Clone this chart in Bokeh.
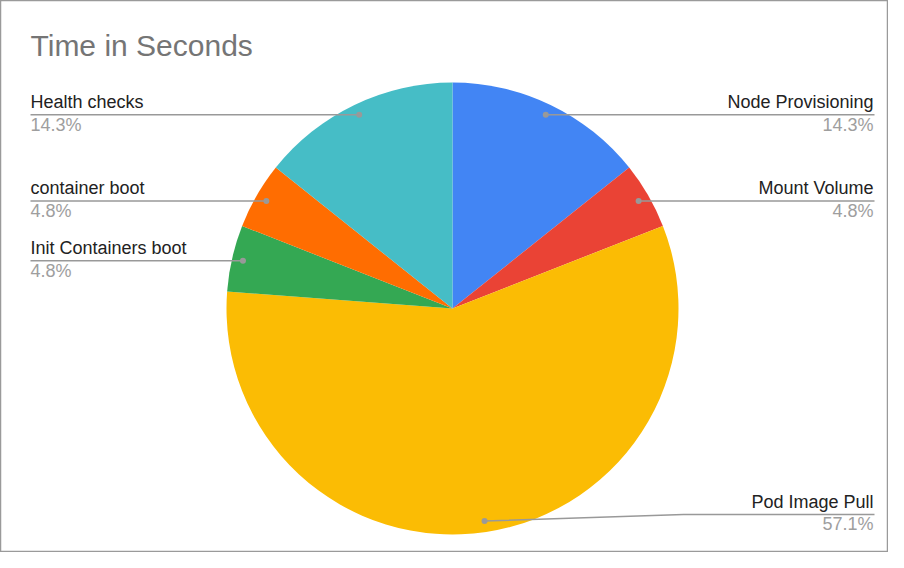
import math
from bokeh.plotting import figure
from bokeh.models import Range1d, ColumnDataSource
from bokeh.core.properties import value
from bokeh.embed import file_html
from bokeh.resources import INLINE

categories = ["Node Provisioning", "Mount Volume", "Pod Image Pull",
              "Init Containers boot", "container boot", "Health checks"]
seconds = [3, 1, 12, 1, 1, 3]
colors = ["#4285F4", "#EA4335", "#FBBC04", "#34A853", "#FF6D01", "#46BDC6"]
title_text = "Time in Seconds"

FONT = value("Liberation Sans")
PAGE_H = 568
def Y(sy):
    return PAGE_H - sy

CX, CY, R = 452, Y(308), 226
LEFT_X, RIGHT_X = 30, 874
BOTTOM_LIMIT = Y(514)
BASE_FIX = 0.39  # em, baseline correction

p = figure(width=888, height=552, x_range=Range1d(0, 888), y_range=Range1d(16, 568),
           output_backend="svg", toolbar_location=None, min_border=0,
           x_axis_type=None, y_axis_type=None)
p.grid.visible = False
p.outline_line_color = "#9a9a9a"
p.outline_line_width = 1.5
p.background_fill_color = "white"

total = float(sum(seconds))
cum = 0.0
starts, ends = [], []
lx, ly, lxs, lys = [], [], [], []
right_rows, left_rows = [], []
for cat, v in zip(categories, seconds):
    f0 = cum / total
    f1 = (cum + v) / total
    cum += v
    starts.append(math.pi / 2 - 2 * math.pi * f1)
    ends.append(math.pi / 2 - 2 * math.pi * f0)
    mid = math.pi / 2 - 2 * math.pi * (f0 + f1) / 2
    dx = CX + 0.951 * R * math.cos(mid)
    dy = CY + 0.951 * R * math.sin(mid)
    lx.append(dx); ly.append(dy)
    line_y = max(dy, BOTTOM_LIMIT)
    pct = f"{v / total * 100:.1f}%"
    if dx >= CX:
        if line_y != dy:
            xs = [dx, CX + R + 5, RIGHT_X]; ys = [dy, line_y, line_y]
        else:
            xs = [dx, RIGHT_X]; ys = [dy, dy]
        right_rows.append((cat, pct, line_y))
    else:
        xs = [LEFT_X, dx]; ys = [dy, dy]
        left_rows.append((cat, pct, line_y))
    lxs.append(xs); lys.append(ys)

src = ColumnDataSource(dict(start=starts, end=ends, color=colors))
p.wedge(x=CX, y=CY, radius=R, start_angle="start", end_angle="end",
        fill_color="color", line_color=None, source=src)

p.multi_line(xs=lxs, ys=lys, line_color="#999999", line_width=1.5)
p.scatter(x=lx, y=ly, size=6, fill_color="#999999", line_color=None)

fix18 = BASE_FIX * 18
for rows, xpos, align in ((right_rows, RIGHT_X - 1, "right"), (left_rows, LEFT_X, "left")):
    if not rows:
        continue
    names = [r[0] for r in rows]
    pcts = [r[1] for r in rows]
    yl = [r[2] for r in rows]
    p.text(x=[xpos] * len(rows), y=[y + 5.7 + fix18 for y in yl], text=names,
           text_align=align, text_baseline="alphabetic", text_font=FONT,
           text_font_size="18px", text_color="#222222")
    p.text(x=[xpos] * len(rows), y=[y - 17 + fix18 for y in yl], text=pcts,
           text_align=align, text_baseline="alphabetic", text_font=FONT,
           text_font_size="18px", text_color="#9e9e9e")

p.text(x=[30], y=[Y(57) + BASE_FIX * 30], text=[title_text], text_align="left",
       text_baseline="alphabetic", text_font=FONT, text_font_size="30px",
       text_color="#757575")

open("out.html", "w").write(file_html(p, INLINE))
